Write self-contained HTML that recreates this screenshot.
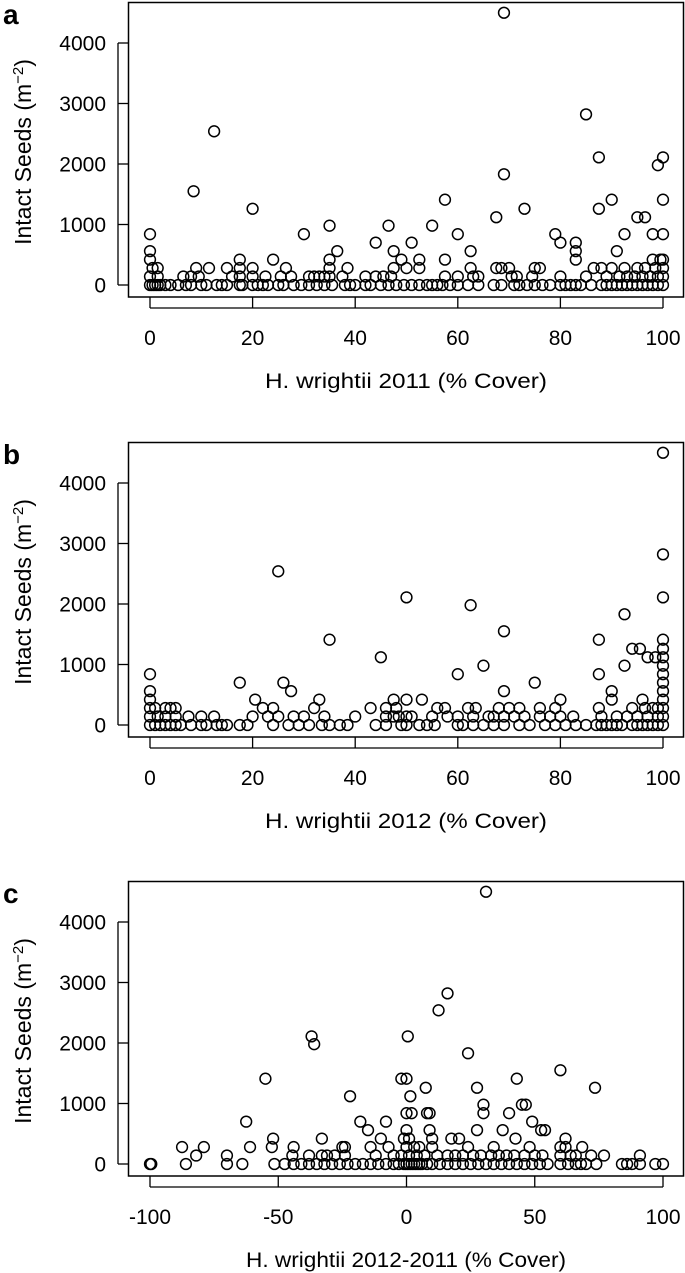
<!DOCTYPE html>
<html><head><meta charset="utf-8">
<style>
html,body{margin:0;padding:0;background:#fff;}
svg{display:block;font-family:"Liberation Sans",sans-serif;}
</style></head>
<body>
<svg id="fig" width="685" height="1273" viewBox="0 0 685 1273" xmlns="http://www.w3.org/2000/svg"></svg>
<script>
const yTicks = [0, 1000, 2000, 3000, 4000];
const xTicksAB = [0, 20, 40, 60, 80, 100];
const xTicksC = [-100, -50, 0, 50, 100];
const panelLetters = ["a", "b", "c"];
const xTitles = ["H. wrightii  2011 (% Cover)", "H. wrightii  2012 (% Cover)", "H. wrightii  2012-2011 (% Cover)"];
const xTitleLens = [282, 282, 320];

const ptsA = [[69,4500],[12.5,2540],[85,2820],[87.5,2110],[100,2110],[99,1980],[69,1830],[8.5,1550],[57.5,1410],[90,1410],[100,1410],[20,1260],[73,1260],[87.5,1260],[67.5,1120],[95,1120],[96.5,1120],[35,980],[46.5,980],[55,980],[30,840],[60,840],[79,840],[92.5,840],[98,840],[100,840],[0,840],[44,700],[51,700],[80,700],[83,700],[0,560],[36.5,560],[47.5,560],[62.5,560],[83,560],[91,560],[0,420],[17.5,420],[24,420],[35,420],[49,420],[52.5,420],[57.5,420],[83,420],[98,420],[99.5,420],[100,420],
[0.5,280],[1.5,280],[9,280],[11.5,280],[15,280],[17.5,280],[20,280],[26.5,280],[35,280],[38.5,280],[47.5,280],[50,280],[52.5,280],[62.5,280],[67.5,280],[68.5,280],[70,280],[75,280],[76,280],[86.5,280],[88,280],[90,280],[92.5,280],[95,280],[96.5,280],[98.5,280],[100,280],
[0,140],[1.5,140],[6.5,140],[8,140],[9.5,140],[16,140],[17.5,140],[20,140],[22.5,140],[25.5,140],[27.5,140],[31,140],[32,140],[33,140],[34,140],[35,140],[37.5,140],[42,140],[44,140],[45.5,140],[47,140],[57.5,140],[60,140],[63,140],[64,140],[70.5,140],[71.5,140],[74.5,140],[80,140],[85,140],[89,140],[91.5,140],[93,140],[94.5,140],[96,140],[97.5,140],[99,140],[100,140],
[0,0],[0.5,0],[1,0],[1.5,0],[2,0],[3,0],[4,0],[5.5,0],[7,0],[8,0],[10,0],[11,0],[13,0],[14,0],[15,0],[17.5,0],[18,0],[20,0],[21,0],[22,0],[23,0],[25,0],[26,0],[28,0],[29.5,0],[31,0],[32.5,0],[34,0],[35.5,0],[38,0],[39,0],[40,0],[42,0],[43,0],[45,0],[46.5,0],[48,0],[49.5,0],[51,0],[52.5,0],[54,0],[55,0],[56,0],[57,0],[58.5,0],[60,0],[62,0],[64,0],[67,0],[68.5,0],[71,0],[72,0],[73.5,0],[75,0],[76.5,0],[78,0],[80,0],[81,0],[82,0],[83,0],[84,0],[86,0],[88,0],[89,0],[90,0],[91,0],[92,0],[93,0],[94,0],[95,0],[96,0],[97,0],[98,0],[99,0],[100,0]];

const ptsB = [[100,4500],[25,2540],[100,2820],[50,2110],[100,2110],[62.5,1980],[92.5,1830],[69,1550],[35,1410],[87.5,1410],[100,1410],[94,1260],[95.5,1260],[100,1260],[45,1120],[97,1120],[98.5,1120],[100,1120],[65,980],[92.5,980],[100,980],[0,840],[60,840],[87.5,840],[100,840],[17.5,700],[26,700],[75,700],[100,700],[0,560],[27.5,560],[69,560],[90,560],[100,560],[0,420],[20.5,420],[33,420],[47.5,420],[50,420],[53,420],[80,420],[90,420],[96,420],[100,420],
[0,280],[1,280],[3,280],[4,280],[5,280],[22,280],[24,280],[32,280],[43,280],[46,280],[48,280],[56,280],[57.5,280],[62,280],[63.5,280],[68,280],[70,280],[72,280],[76,280],[79,280],[87.5,280],[94,280],[96.5,280],[98,280],[99,280],[100,280],
[0,140],[1.5,140],[3,140],[5,140],[7.5,140],[10,140],[12.5,140],[20,140],[23,140],[25,140],[28,140],[30,140],[34,140],[40,140],[46,140],[47.5,140],[48.5,140],[50,140],[51,140],[55,140],[58,140],[60,140],[63,140],[66,140],[67,140],[69,140],[71,140],[73,140],[76,140],[78,140],[80,140],[82.5,140],[88,140],[91,140],[93,140],[95,140],[97,140],[99,140],[100,140],
[0,0],[1,0],[2,0],[3,0],[4,0],[5,0],[6,0],[8,0],[10,0],[11,0],[13,0],[14,0],[15,0],[17.5,0],[19,0],[24,0],[27,0],[29,0],[31,0],[33.5,0],[35,0],[37,0],[38.5,0],[44,0],[46,0],[49,0],[50,0],[52.5,0],[54,0],[55.5,0],[60,0],[61,0],[63,0],[65,0],[67,0],[69,0],[72,0],[74,0],[77,0],[79,0],[81,0],[83,0],[85,0],[87,0],[88,0],[89,0],[90,0],[91,0],[92,0],[94,0],[95,0],[96,0],[97,0],[98,0],[99,0],[100,0]];

const ptsC = [[31,4500],[16,2820],[12.5,2540],[-37,2110],[0.5,2110],[-36,1980],[24,1830],[60,1550],[-55,1410],[-2,1410],[0,1410],[43,1410],[7.5,1260],[27.5,1260],[73.5,1260],[-22,1120],[1.5,1120],[30,980],[45,980],[46.5,980],[0,840],[2,840],[8,840],[9,840],[30,840],[40,840],[-62.5,700],[-18,700],[-8,700],[49,700],[-52,420],[-33,420],[-10,420],[-1,420],[1,420],[10,420],[17.5,420],[20.5,420],[42.5,420],[62,420],[-15,560],[0,560],[9,560],[27.5,560],[37.5,560],[52.5,560],[54,560],
[-87.5,280],[-79,280],[-61,280],[-52.5,280],[-44,280],[-25,280],[-24,280],[-14,280],[-7,280],[0,280],[3,280],[5,280],[10,280],[24,280],[34,280],[48,280],[60,280],[62,280],[68.5,280],
[-82,140],[-70,140],[-44.5,140],[-38,140],[-33,140],[-31,140],[-28,140],[-24,140],[-12,140],[-5,140],[-2,140],[1,140],[4,140],[7,140],[12,140],[16,140],[19,140],[22,140],[26,140],[29,140],[33,140],[36,140],[39,140],[42,140],[46,140],[50,140],[53,140],[60,140],[64,140],[66,140],[72,140],[77,140],[91,140],
[-100,0],[-99.5,0],[-86,0],[-70,0],[-64,0],[-51.5,0],[-47.5,0],[-44,0],[-41,0],[-38,0],[-35,0],[-32,0],[-29,0],[-26,0],[-23,0],[-20,0],[-17,0],[-14,0],[-11,0],[-8,0],[-5,0],[-3,0],[-1,0],[0,0],[1,0],[2,0],[3,0],[4,0],[5,0],[6,0],[8,0],[10,0],[13,0],[16,0],[19,0],[22,0],[25,0],[28,0],[31,0],[34,0],[37,0],[40,0],[43,0],[46,0],[49,0],[52,0],[55,0],[60,0],[63,0],[66,0],[68,0],[70,0],[74,0],[84,0],[86,0],[88,0],[91,0],[97,0],[100,0]];

const NS = "http://www.w3.org/2000/svg";
const svg = document.getElementById("fig");
function mk(tag, attrs, parent) {
  const e = document.createElementNS(NS, tag);
  for (const k in attrs) e.setAttribute(k, attrs[k]);
  (parent || svg).appendChild(e);
  return e;
}
const panels = [
  {pts: ptsA, xmin: 0, xmax: 100, ticks: xTicksAB, off: 0},
  {pts: ptsB, xmin: 0, xmax: 100, ticks: xTicksAB, off: 440},
  {pts: ptsC, xmin: -100, xmax: 100, ticks: xTicksC, off: 879}
];
panels.forEach((p, i) => {
  const g = mk("g", {});
  
  
  const o = p.off;
  const xs = v => 150 + (v - p.xmin) / (p.xmax - p.xmin) * 513;
  const ys = v => o + 285 - v / 1000 * 60.5;
  const box = mk("rect", {x: 128.5, y: o + 2.5, width: 555, height: 294.5, fill: "none", stroke: "#000", "stroke-width": 1.5}, g);
  
  
  yTicks.forEach(t => {
    const y = ys(t);
    mk("line", {x1: 118, x2: 128, y1: y, y2: y, stroke: "#000", "stroke-width": 1.3}, g);
    const tx = mk("text", {x: 106, y: y + 7.5, "text-anchor": "end", "font-size": 21}, g);
    tx.textContent = t;
    
    
  });
  mk("line", {x1: 118, x2: 118, y1: ys(0), y2: ys(4000), stroke: "#000", "stroke-width": 1.3}, g);
  p.ticks.forEach(t => {
    const x = xs(t);
    mk("line", {x1: x, x2: x, y1: o + 297, y2: o + 308, stroke: "#000", "stroke-width": 1.3}, g);
    const tx = mk("text", {x: x, y: o + 345, "text-anchor": "middle", "font-size": 21}, g);
    tx.textContent = t;
    
    
  });
  mk("line", {x1: xs(p.xmin), x2: xs(p.xmax), y1: o + 308, y2: o + 308, stroke: "#000", "stroke-width": 1.3}, g);
  const xt = mk("text", {x: 406, y: o + 388, "text-anchor": "middle", "font-size": 21, textLength: xTitleLens[i], lengthAdjust: "spacingAndGlyphs"}, g);
  xt.textContent = xTitles[i];
  
  
  const yt = mk("text", {x: 0, y: 0, "text-anchor": "middle", "font-size": 23, transform: "translate(31," + (o + 152) + ") rotate(-90)"}, g);
  yt.innerHTML = 'Intact Seeds (m<tspan dy="-8" font-size="15">−2</tspan><tspan dy="8">)</tspan>';
  
  
  const pl = mk("text", {x: 3, y: o + 24, "font-size": 28, "font-weight": "bold"}, g);
  pl.textContent = panelLetters[i];
  
  
  p.pts.forEach(d => {
    const c = mk("circle", {cx: xs(d[0]), cy: ys(d[1]), r: 5.4, fill: "none", stroke: "#000", "stroke-width": 1.5}, g);
    
    
  });
});
</script>
</body></html>
